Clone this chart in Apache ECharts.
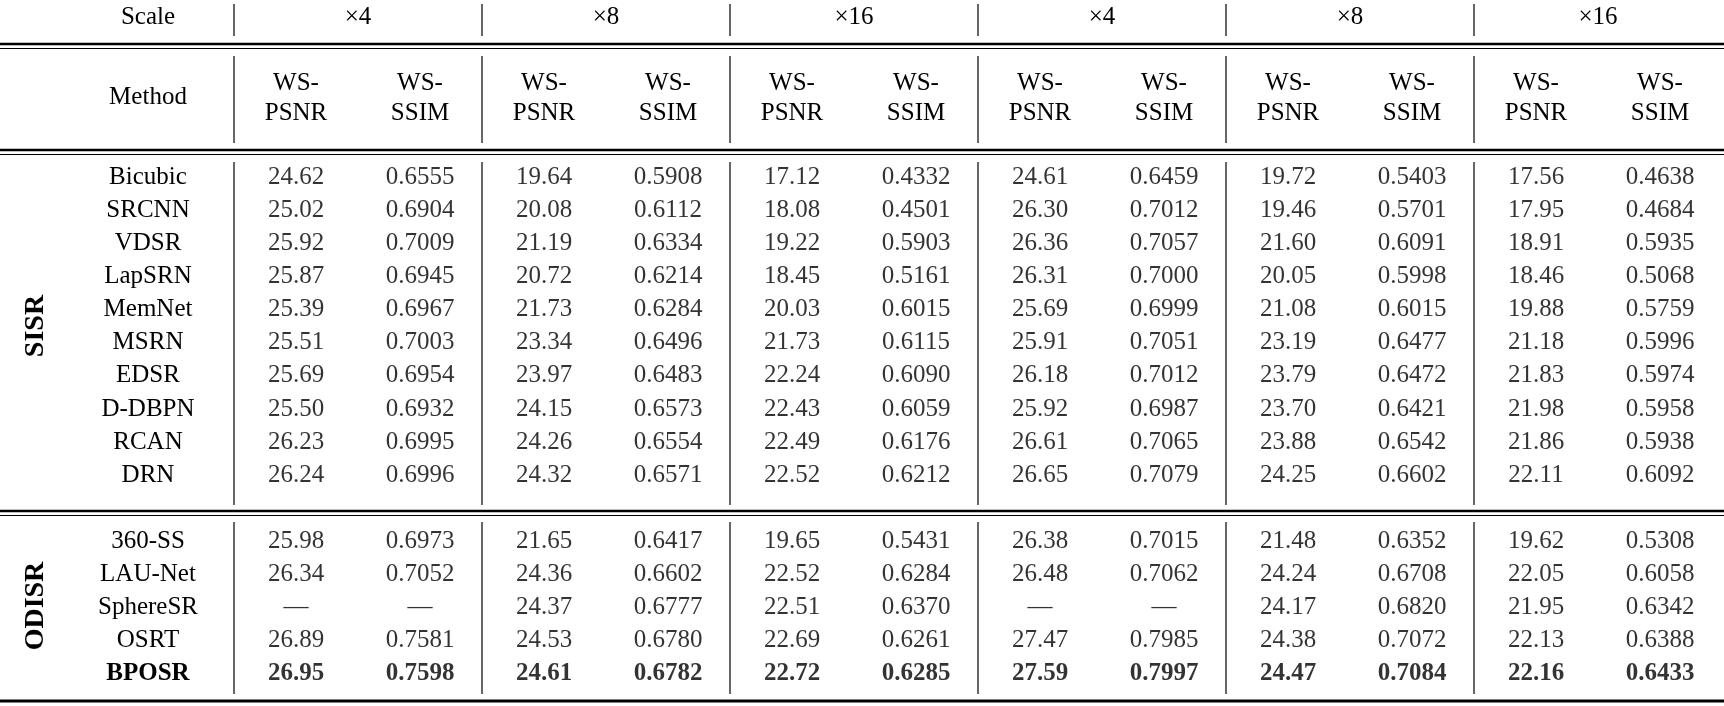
<!DOCTYPE html>
<html><head><meta charset="utf-8">
<script src="https://cdn.jsdelivr.net/npm/echarts@6/dist/echarts.min.js"></script>
<style>html,body{margin:0;background:#fff}#c{width:1724px;height:706px}</style>
</head><body><div id="c"></div>
<script>
const scales = ['×4','×8','×16','×4','×8','×16'];
const metrics = ['WS-\nPSNR','WS-\nSSIM','WS-\nPSNR','WS-\nSSIM','WS-\nPSNR','WS-\nSSIM','WS-\nPSNR','WS-\nSSIM','WS-\nPSNR','WS-\nSSIM','WS-\nPSNR','WS-\nSSIM'];
const sisrMethods = ['Bicubic','SRCNN','VDSR','LapSRN','MemNet','MSRN','EDSR','D-DBPN','RCAN','DRN'];
const odisrMethods = ['360-SS','LAU-Net','SphereSR','OSRT','BPOSR'];
const sisrValues = [
['24.62','0.6555','19.64','0.5908','17.12','0.4332','24.61','0.6459','19.72','0.5403','17.56','0.4638'],
['25.02','0.6904','20.08','0.6112','18.08','0.4501','26.30','0.7012','19.46','0.5701','17.95','0.4684'],
['25.92','0.7009','21.19','0.6334','19.22','0.5903','26.36','0.7057','21.60','0.6091','18.91','0.5935'],
['25.87','0.6945','20.72','0.6214','18.45','0.5161','26.31','0.7000','20.05','0.5998','18.46','0.5068'],
['25.39','0.6967','21.73','0.6284','20.03','0.6015','25.69','0.6999','21.08','0.6015','19.88','0.5759'],
['25.51','0.7003','23.34','0.6496','21.73','0.6115','25.91','0.7051','23.19','0.6477','21.18','0.5996'],
['25.69','0.6954','23.97','0.6483','22.24','0.6090','26.18','0.7012','23.79','0.6472','21.83','0.5974'],
['25.50','0.6932','24.15','0.6573','22.43','0.6059','25.92','0.6987','23.70','0.6421','21.98','0.5958'],
['26.23','0.6995','24.26','0.6554','22.49','0.6176','26.61','0.7065','23.88','0.6542','21.86','0.5938'],
['26.24','0.6996','24.32','0.6571','22.52','0.6212','26.65','0.7079','24.25','0.6602','22.11','0.6092']];
const odisrValues = [
['25.98','0.6973','21.65','0.6417','19.65','0.5431','26.38','0.7015','21.48','0.6352','19.62','0.5308'],
['26.34','0.7052','24.36','0.6602','22.52','0.6284','26.48','0.7062','24.24','0.6708','22.05','0.6058'],
['—','—','24.37','0.6777','22.51','0.6370','—','—','24.17','0.6820','21.95','0.6342'],
['26.89','0.7581','24.53','0.6780','22.69','0.6261','27.47','0.7985','24.38','0.7072','22.13','0.6388'],
['26.95','0.7598','24.61','0.6782','22.72','0.6285','27.59','0.7997','24.47','0.7084','22.16','0.6433']];
const boldMethod = 'BPOSR';

const FONT = 'Liberation Serif';
const FS = 25;
const rows = [...sisrMethods, '', ...odisrMethods];
const cells = [];
const allVals = [...sisrValues, null, ...odisrValues];
rows.forEach((m, r) => {
  if (!allVals[r]) return;
  allVals[r].forEach((v, c) => cells.push({value: [c, r, v], bold: m === boldMethod}));
});
const data = cells.map(d => ({value: d.value, label: {fontWeight: d.bold ? 'bold' : 'normal'}}));

const chart = echarts.init(document.getElementById('c'));
const L = 234, colW = (1722 - L) / 12;
const gTop = 161, gBot = 690;
const lines = [];
function hline(y, w) { lines.push({type:'line', shape:{x1:0,y1:y,x2:1724,y2:y}, style:{stroke:'#000', lineWidth:w}}); }
hline(44, 2.5); hline(48.5, 1); hline(150, 2.5); hline(154.5, 1); hline(511, 2.5); hline(515.5, 1); hline(701, 3);
[0,1,2,3,4,5].forEach(g => {
  const x = L + g * colW * 2;
  [[4,36],[56,143],[162,505],[522,694]].forEach(s =>
    lines.push({type:'line', shape:{x1:x,y1:s[0],x2:x,y2:s[1]}, style:{stroke:'#000', lineWidth:1.2}}));
});
const txt = (t, x, y) => ({type:'text', x, y, style:{text:t, font:FS+'px "'+FONT+'"', fill:'#000', align:'center', verticalAlign:'middle'}});
lines.push(txt('Scale', 148, 17));
lines.push(txt('Method', 148, 97));
lines.push({type:'text', x:36, y:326, rotation:Math.PI/2, style:{text:'SISR', font:'bold 28px "'+FONT+'"', fill:'#000', align:'center', verticalAlign:'middle'}});
lines.push({type:'text', x:36, y:606, rotation:Math.PI/2, style:{text:'ODISR', font:'bold 28px "'+FONT+'"', fill:'#000', align:'center', verticalAlign:'middle'}});

chart.setOption({
  animation: false,
  grid: {left: L, right: 1724 - 1722, top: gTop, bottom: 706 - gBot},
  xAxis: [
    {type:'category', data: metrics, position:'top', axisLine:{show:false}, axisTick:{show:false}, splitLine:{show:false},
     axisLabel:{interval:0, margin: gTop - 98, verticalAlign:'middle', lineHeight:30, fontFamily:FONT, fontSize:FS, color:'#000'}},
    {type:'category', data: scales, position:'top', axisLine:{show:false}, axisTick:{show:false},
     axisLabel:{interval:0, margin: gTop - 17, verticalAlign:'middle', fontFamily:FONT, fontSize:FS, color:'#000'}}
  ],
  yAxis: {type:'category', data: rows, inverse:true, axisLine:{show:false}, axisTick:{show:false},
    axisLabel:{interval:0, margin: 86, align:'center', fontFamily:FONT, fontSize:FS, color:'#000',
      formatter: v => v === boldMethod ? '{b|'+v+'}' : v, rich:{b:{fontWeight:'bold', fontFamily:FONT, fontSize:FS}}}},
  series: [{type:'scatter', xAxisIndex:0, symbolSize:0, data,
    label:{show:true, position:'inside', formatter: p => p.value[2], fontFamily:FONT, fontSize:FS, color:'#000'}}],
  graphic: lines
});
</script></body></html>
